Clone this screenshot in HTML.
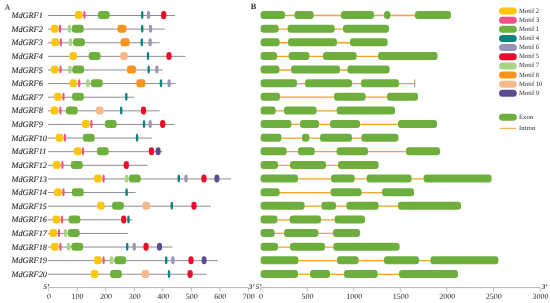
<!DOCTYPE html>
<html><head><meta charset="utf-8"><title>MdGRF gene structure</title>
<style>
html,body{margin:0;padding:0;background:#fff;}
body{width:550px;height:303px;overflow:hidden;}
svg{display:block;font-family:"Liberation Serif",serif;text-rendering:geometricPrecision;filter:blur(0.3px);}
</style></head><body>
<svg width="550" height="303" viewBox="0 0 550 303">
<text x="4.4" y="9.5" font-size="8.2" fill="#2a2a2a">A</text>
<text x="250.8" y="9.4" font-size="8.2" font-weight="bold" fill="#2a2a2a">B</text>
<text x="11.5" y="18.1" font-size="8.3" font-style="italic" fill="#2a2a2a" stroke="#2a2a2a" stroke-width="0.12">MdGRF1</text>
<line x1="48" y1="15.5" x2="175" y2="15.5" stroke="#8E8E8E" stroke-width="1"/>
<rect x="74.9" y="11.1" width="7.6" height="8" rx="3" fill="#FDC60C"/>
<rect x="83.3" y="11.1" width="2.2" height="8" rx="1.1" ry="2" fill="#EF5285"/>
<rect x="97.9" y="11.1" width="11.8" height="8" rx="3" fill="#6FAF3D"/>
<rect x="141" y="11.1" width="2.4" height="8" rx="1.2" ry="2" fill="#0B847F"/>
<rect x="146.9" y="11.1" width="3.2" height="8" rx="1.6" ry="2" fill="#9893B7"/>
<rect x="161.1" y="11.1" width="5.2" height="8" rx="2.6" ry="3.2" fill="#EC0B2A"/>
<text x="11.5" y="31.72" font-size="8.3" font-style="italic" fill="#2a2a2a" stroke="#2a2a2a" stroke-width="0.12">MdGRF2</text>
<line x1="48" y1="29.12" x2="164.6" y2="29.12" stroke="#8E8E8E" stroke-width="1"/>
<rect x="50.9" y="24.72" width="7.6" height="8" rx="3" fill="#FDC60C"/>
<rect x="58.9" y="24.72" width="2.2" height="8" rx="1.1" ry="2" fill="#EF5285"/>
<rect x="67.8" y="24.72" width="3.4" height="8" rx="1.7" ry="2" fill="#A8D585"/>
<rect x="71.9" y="24.72" width="11.8" height="8" rx="3" fill="#6FAF3D"/>
<rect x="117.5" y="24.72" width="9" height="8" rx="2.9" fill="#F7941E"/>
<rect x="141" y="24.72" width="2.4" height="8" rx="1.2" ry="2" fill="#0B847F"/>
<rect x="148.9" y="24.72" width="3.2" height="8" rx="1.6" ry="2" fill="#9893B7"/>
<text x="11.5" y="45.34" font-size="8.3" font-style="italic" fill="#2a2a2a" stroke="#2a2a2a" stroke-width="0.12">MdGRF3</text>
<line x1="48" y1="42.74" x2="159.6" y2="42.74" stroke="#8E8E8E" stroke-width="1"/>
<rect x="51.4" y="38.34" width="7.6" height="8" rx="3" fill="#FDC60C"/>
<rect x="59.7" y="38.34" width="2.2" height="8" rx="1.1" ry="2" fill="#EF5285"/>
<rect x="68.8" y="38.34" width="3.4" height="8" rx="1.7" ry="2" fill="#A8D585"/>
<rect x="73.1" y="38.34" width="11.8" height="8" rx="3" fill="#6FAF3D"/>
<rect x="120.6" y="38.34" width="9" height="8" rx="2.9" fill="#F7941E"/>
<rect x="140.6" y="38.34" width="2.4" height="8" rx="1.2" ry="2" fill="#0B847F"/>
<rect x="148.5" y="38.34" width="3.2" height="8" rx="1.6" ry="2" fill="#9893B7"/>
<text x="11.5" y="58.96" font-size="8.3" font-style="italic" fill="#2a2a2a" stroke="#2a2a2a" stroke-width="0.12">MdGRF4</text>
<line x1="48" y1="56.36" x2="185.4" y2="56.36" stroke="#8E8E8E" stroke-width="1"/>
<rect x="69.4" y="51.96" width="7.6" height="8" rx="3" fill="#FDC60C"/>
<rect x="88.7" y="51.96" width="11.8" height="8" rx="3" fill="#6FAF3D"/>
<rect x="120.2" y="51.96" width="7.6" height="8" rx="3" fill="#F9B88A"/>
<rect x="146.8" y="51.96" width="2.4" height="8" rx="1.2" ry="2" fill="#0B847F"/>
<rect x="166.4" y="51.96" width="5.2" height="8" rx="2.6" ry="3.2" fill="#EC0B2A"/>
<text x="11.5" y="72.58" font-size="8.3" font-style="italic" fill="#2a2a2a" stroke="#2a2a2a" stroke-width="0.12">MdGRF5</text>
<line x1="48" y1="69.98" x2="163" y2="69.98" stroke="#8E8E8E" stroke-width="1"/>
<rect x="50.9" y="65.58" width="7.6" height="8" rx="3" fill="#FDC60C"/>
<rect x="59.4" y="65.58" width="2.2" height="8" rx="1.1" ry="2" fill="#EF5285"/>
<rect x="68.2" y="65.58" width="3.4" height="8" rx="1.7" ry="2" fill="#A8D585"/>
<rect x="72.3" y="65.58" width="11.8" height="8" rx="3" fill="#6FAF3D"/>
<rect x="127" y="65.58" width="9" height="8" rx="2.9" fill="#F7941E"/>
<rect x="147.5" y="65.58" width="2.4" height="8" rx="1.2" ry="2" fill="#0B847F"/>
<rect x="155.3" y="65.58" width="3.2" height="8" rx="1.6" ry="2" fill="#9893B7"/>
<text x="11.5" y="86.2" font-size="8.3" font-style="italic" fill="#2a2a2a" stroke="#2a2a2a" stroke-width="0.12">MdGRF6</text>
<line x1="48" y1="83.6" x2="175.6" y2="83.6" stroke="#8E8E8E" stroke-width="1"/>
<rect x="69.5" y="79.2" width="7.6" height="8" rx="3" fill="#FDC60C"/>
<rect x="78.1" y="79.2" width="2.2" height="8" rx="1.1" ry="2" fill="#EF5285"/>
<rect x="86.2" y="79.2" width="3.4" height="8" rx="1.7" ry="2" fill="#A8D585"/>
<rect x="90.9" y="79.2" width="11.8" height="8" rx="3" fill="#6FAF3D"/>
<rect x="136.35" y="79.2" width="9" height="8" rx="2.9" fill="#F7941E"/>
<rect x="159.8" y="79.2" width="2.4" height="8" rx="1.2" ry="2" fill="#0B847F"/>
<rect x="167.5" y="79.2" width="3.2" height="8" rx="1.6" ry="2" fill="#9893B7"/>
<text x="11.5" y="99.82" font-size="8.3" font-style="italic" fill="#2a2a2a" stroke="#2a2a2a" stroke-width="0.12">MdGRF7</text>
<line x1="48" y1="97.22" x2="134" y2="97.22" stroke="#8E8E8E" stroke-width="1"/>
<rect x="54" y="92.82" width="7.6" height="8" rx="3" fill="#FDC60C"/>
<rect x="62.4" y="92.82" width="2.2" height="8" rx="1.1" ry="2" fill="#EF5285"/>
<rect x="72.1" y="92.82" width="11.8" height="8" rx="3" fill="#6FAF3D"/>
<rect x="125.1" y="92.82" width="2.4" height="8" rx="1.2" ry="2" fill="#0B847F"/>
<text x="11.5" y="113.44" font-size="8.3" font-style="italic" fill="#2a2a2a" stroke="#2a2a2a" stroke-width="0.12">MdGRF8</text>
<line x1="48" y1="110.84" x2="159.6" y2="110.84" stroke="#8E8E8E" stroke-width="1"/>
<rect x="50.7" y="106.44" width="7.6" height="8" rx="3" fill="#FDC60C"/>
<rect x="59.3" y="106.44" width="2.2" height="8" rx="1.1" ry="2" fill="#EF5285"/>
<rect x="65.9" y="106.44" width="11.8" height="8" rx="3" fill="#6FAF3D"/>
<rect x="95.9" y="106.44" width="7.6" height="8" rx="3" fill="#F9B88A"/>
<rect x="120" y="106.44" width="2.4" height="8" rx="1.2" ry="2" fill="#0B847F"/>
<rect x="140.9" y="106.44" width="5.2" height="8" rx="2.6" ry="3.2" fill="#EC0B2A"/>
<text x="11.5" y="127.06" font-size="8.3" font-style="italic" fill="#2a2a2a" stroke="#2a2a2a" stroke-width="0.12">MdGRF9</text>
<line x1="48" y1="124.46" x2="174.4" y2="124.46" stroke="#8E8E8E" stroke-width="1"/>
<rect x="81.9" y="120.06" width="7.6" height="8" rx="3" fill="#FDC60C"/>
<rect x="90.3" y="120.06" width="2.2" height="8" rx="1.1" ry="2" fill="#EF5285"/>
<rect x="104.9" y="120.06" width="11.8" height="8" rx="3" fill="#6FAF3D"/>
<rect x="142.8" y="120.06" width="2.4" height="8" rx="1.2" ry="2" fill="#0B847F"/>
<rect x="148.6" y="120.06" width="3.2" height="8" rx="1.6" ry="2" fill="#9893B7"/>
<rect x="160.1" y="120.06" width="5.2" height="8" rx="2.6" ry="3.2" fill="#EC0B2A"/>
<text x="11.5" y="140.68" font-size="8.3" font-style="italic" fill="#2a2a2a" stroke="#2a2a2a" stroke-width="0.12">MdGRF10</text>
<line x1="48" y1="138.08" x2="151.8" y2="138.08" stroke="#8E8E8E" stroke-width="1"/>
<rect x="55.7" y="133.68" width="7.6" height="8" rx="3" fill="#FDC60C"/>
<rect x="63.9" y="133.68" width="2.2" height="8" rx="1.1" ry="2" fill="#EF5285"/>
<rect x="82.9" y="133.68" width="11.8" height="8" rx="3" fill="#6FAF3D"/>
<rect x="135.9" y="133.68" width="2.4" height="8" rx="1.2" ry="2" fill="#0B847F"/>
<text x="11.5" y="154.3" font-size="8.3" font-style="italic" fill="#2a2a2a" stroke="#2a2a2a" stroke-width="0.12">MdGRF11</text>
<line x1="48" y1="151.7" x2="162.6" y2="151.7" stroke="#8E8E8E" stroke-width="1"/>
<rect x="73.9" y="147.3" width="7.6" height="8" rx="3" fill="#FDC60C"/>
<rect x="81.9" y="147.3" width="2.2" height="8" rx="1.1" ry="2" fill="#EF5285"/>
<rect x="96.9" y="147.3" width="11.8" height="8" rx="3" fill="#6FAF3D"/>
<rect x="148.9" y="147.3" width="5.2" height="8" rx="2.6" ry="3.2" fill="#EC0B2A"/>
<rect x="155.6" y="147.3" width="5" height="8" rx="2.5" ry="3.2" fill="#5C4A92"/>
<text x="11.5" y="167.92" font-size="8.3" font-style="italic" fill="#2a2a2a" stroke="#2a2a2a" stroke-width="0.12">MdGRF12</text>
<line x1="48" y1="165.32" x2="147.5" y2="165.32" stroke="#8E8E8E" stroke-width="1"/>
<rect x="52.9" y="160.92" width="7.6" height="8" rx="3" fill="#FDC60C"/>
<rect x="61.3" y="160.92" width="2.2" height="8" rx="1.1" ry="2" fill="#EF5285"/>
<rect x="70.9" y="160.92" width="11.8" height="8" rx="3" fill="#6FAF3D"/>
<rect x="123.7" y="160.92" width="5.2" height="8" rx="2.6" ry="3.2" fill="#EC0B2A"/>
<text x="11.5" y="181.54" font-size="8.3" font-style="italic" fill="#2a2a2a" stroke="#2a2a2a" stroke-width="0.12">MdGRF13</text>
<line x1="48" y1="178.94" x2="231" y2="178.94" stroke="#8E8E8E" stroke-width="1"/>
<rect x="94" y="174.54" width="7.6" height="8" rx="3" fill="#FDC60C"/>
<rect x="102.5" y="174.54" width="2.2" height="8" rx="1.1" ry="2" fill="#EF5285"/>
<rect x="124.8" y="174.54" width="3.4" height="8" rx="1.7" ry="2" fill="#A8D585"/>
<rect x="128.9" y="174.54" width="11.8" height="8" rx="3" fill="#6FAF3D"/>
<rect x="177.6" y="174.54" width="2.4" height="8" rx="1.2" ry="2" fill="#0B847F"/>
<rect x="184.4" y="174.54" width="3.2" height="8" rx="1.6" ry="2" fill="#9893B7"/>
<rect x="201.3" y="174.54" width="5.2" height="8" rx="2.6" ry="3.2" fill="#EC0B2A"/>
<rect x="214.4" y="174.54" width="5" height="8" rx="2.5" ry="3.2" fill="#5C4A92"/>
<text x="11.5" y="195.16" font-size="8.3" font-style="italic" fill="#2a2a2a" stroke="#2a2a2a" stroke-width="0.12">MdGRF14</text>
<line x1="48" y1="192.56" x2="135.6" y2="192.56" stroke="#8E8E8E" stroke-width="1"/>
<rect x="54" y="188.16" width="7.6" height="8" rx="3" fill="#FDC60C"/>
<rect x="62.4" y="188.16" width="2.2" height="8" rx="1.1" ry="2" fill="#EF5285"/>
<rect x="71.9" y="188.16" width="11.8" height="8" rx="3" fill="#6FAF3D"/>
<rect x="125.4" y="188.16" width="2.4" height="8" rx="1.2" ry="2" fill="#0B847F"/>
<text x="11.5" y="208.78" font-size="8.3" font-style="italic" fill="#2a2a2a" stroke="#2a2a2a" stroke-width="0.12">MdGRF15</text>
<line x1="48" y1="206.18" x2="211" y2="206.18" stroke="#8E8E8E" stroke-width="1"/>
<rect x="97" y="201.78" width="7.6" height="8" rx="3" fill="#FDC60C"/>
<rect x="112.1" y="201.78" width="11.8" height="8" rx="3" fill="#6FAF3D"/>
<rect x="142.4" y="201.78" width="7.6" height="8" rx="3" fill="#F9B88A"/>
<rect x="170.6" y="201.78" width="2.4" height="8" rx="1.2" ry="2" fill="#0B847F"/>
<rect x="191.4" y="201.78" width="5.2" height="8" rx="2.6" ry="3.2" fill="#EC0B2A"/>
<text x="11.5" y="222.4" font-size="8.3" font-style="italic" fill="#2a2a2a" stroke="#2a2a2a" stroke-width="0.12">MdGRF16</text>
<line x1="48" y1="219.8" x2="132.4" y2="219.8" stroke="#8E8E8E" stroke-width="1"/>
<rect x="52.6" y="215.4" width="7.6" height="8" rx="3" fill="#FDC60C"/>
<rect x="60.9" y="215.4" width="2.2" height="8" rx="1.1" ry="2" fill="#EF5285"/>
<rect x="68.6" y="215.4" width="11.8" height="8" rx="3" fill="#6FAF3D"/>
<rect x="121.1" y="215.4" width="5.2" height="8" rx="2.6" ry="3.2" fill="#EC0B2A"/>
<rect x="127.3" y="215.4" width="2.4" height="8" rx="1.2" ry="2" fill="#0B847F"/>
<text x="11.5" y="236.02" font-size="8.3" font-style="italic" fill="#2a2a2a" stroke="#2a2a2a" stroke-width="0.12">MdGRF17</text>
<line x1="48" y1="233.42" x2="128" y2="233.42" stroke="#8E8E8E" stroke-width="1"/>
<rect x="49.4" y="229.02" width="7.6" height="8" rx="3" fill="#FDC60C"/>
<rect x="57.9" y="229.02" width="2.2" height="8" rx="1.1" ry="2" fill="#EF5285"/>
<rect x="63.8" y="229.02" width="3.4" height="8" rx="1.7" ry="2" fill="#A8D585"/>
<rect x="67.9" y="229.02" width="11.8" height="8" rx="3" fill="#6FAF3D"/>
<text x="11.5" y="249.64" font-size="8.3" font-style="italic" fill="#2a2a2a" stroke="#2a2a2a" stroke-width="0.12">MdGRF18</text>
<line x1="48" y1="247.04" x2="172.4" y2="247.04" stroke="#8E8E8E" stroke-width="1"/>
<rect x="50.9" y="242.64" width="7.6" height="8" rx="3" fill="#FDC60C"/>
<rect x="59.3" y="242.64" width="2.2" height="8" rx="1.1" ry="2" fill="#EF5285"/>
<rect x="66.8" y="242.64" width="3.4" height="8" rx="1.7" ry="2" fill="#A8D585"/>
<rect x="71.3" y="242.64" width="11.8" height="8" rx="3" fill="#6FAF3D"/>
<rect x="126" y="242.64" width="2.4" height="8" rx="1.2" ry="2" fill="#0B847F"/>
<rect x="132.6" y="242.64" width="3.2" height="8" rx="1.6" ry="2" fill="#9893B7"/>
<rect x="143.45" y="242.64" width="5.2" height="8" rx="2.6" ry="3.2" fill="#EC0B2A"/>
<rect x="157" y="242.64" width="5" height="8" rx="2.5" ry="3.2" fill="#5C4A92"/>
<text x="11.5" y="263.26" font-size="8.3" font-style="italic" fill="#2a2a2a" stroke="#2a2a2a" stroke-width="0.12">MdGRF19</text>
<line x1="48" y1="260.66" x2="218" y2="260.66" stroke="#8E8E8E" stroke-width="1"/>
<rect x="94" y="256.26" width="7.6" height="8" rx="3" fill="#FDC60C"/>
<rect x="102.5" y="256.26" width="2.2" height="8" rx="1.1" ry="2" fill="#EF5285"/>
<rect x="109.8" y="256.26" width="3.4" height="8" rx="1.7" ry="2" fill="#A8D585"/>
<rect x="114.3" y="256.26" width="11.8" height="8" rx="3" fill="#6FAF3D"/>
<rect x="165" y="256.26" width="2.4" height="8" rx="1.2" ry="2" fill="#0B847F"/>
<rect x="171.3" y="256.26" width="3.2" height="8" rx="1.6" ry="2" fill="#9893B7"/>
<rect x="188.4" y="256.26" width="5.2" height="8" rx="2.6" ry="3.2" fill="#EC0B2A"/>
<rect x="201.6" y="256.26" width="5" height="8" rx="2.5" ry="3.2" fill="#5C4A92"/>
<text x="11.5" y="276.88" font-size="8.3" font-style="italic" fill="#2a2a2a" stroke="#2a2a2a" stroke-width="0.12">MdGRF20</text>
<line x1="48" y1="274.28" x2="206.6" y2="274.28" stroke="#8E8E8E" stroke-width="1"/>
<rect x="90.7" y="269.88" width="7.6" height="8" rx="3" fill="#FDC60C"/>
<rect x="110.1" y="269.88" width="11.8" height="8" rx="3" fill="#6FAF3D"/>
<rect x="141.55" y="269.88" width="7.6" height="8" rx="3" fill="#F9B88A"/>
<rect x="167.8" y="269.88" width="2.4" height="8" rx="1.2" ry="2" fill="#0B847F"/>
<rect x="187.5" y="269.88" width="5.2" height="8" rx="2.6" ry="3.2" fill="#EC0B2A"/>
<line x1="282" y1="15.5" x2="418" y2="15.5" stroke="#F6A12C" stroke-width="1.3"/>
<rect x="260.6" y="11.1" width="24.4" height="8" rx="3" fill="#6DAE3E"/>
<rect x="294.6" y="11.1" width="19" height="8" rx="3" fill="#6DAE3E"/>
<rect x="341" y="11.1" width="33" height="8" rx="3" fill="#6DAE3E"/>
<rect x="384" y="11.1" width="6.4" height="8" rx="3" fill="#6DAE3E"/>
<rect x="415" y="11.1" width="36" height="8" rx="3" fill="#6DAE3E"/>
<line x1="275.6" y1="29.12" x2="346" y2="29.12" stroke="#F6A12C" stroke-width="1.3"/>
<rect x="260.6" y="24.72" width="18" height="8" rx="3" fill="#6DAE3E"/>
<rect x="287.6" y="24.72" width="47" height="8" rx="3" fill="#6DAE3E"/>
<rect x="343" y="24.72" width="46" height="8" rx="3" fill="#6DAE3E"/>
<line x1="276.6" y1="42.74" x2="353" y2="42.74" stroke="#F6A12C" stroke-width="1.3"/>
<rect x="260.6" y="38.34" width="19" height="8" rx="3" fill="#6DAE3E"/>
<rect x="288" y="38.34" width="49" height="8" rx="3" fill="#6DAE3E"/>
<rect x="350" y="38.34" width="37.6" height="8" rx="3" fill="#6DAE3E"/>
<line x1="274" y1="56.36" x2="381" y2="56.36" stroke="#F6A12C" stroke-width="1.3"/>
<rect x="260.6" y="51.96" width="16.4" height="8" rx="3" fill="#6DAE3E"/>
<rect x="288.6" y="51.96" width="20.8" height="8" rx="3" fill="#6DAE3E"/>
<rect x="323" y="51.96" width="33.6" height="8" rx="3" fill="#6DAE3E"/>
<rect x="378" y="51.96" width="59.6" height="8" rx="3" fill="#6DAE3E"/>
<line x1="276.4" y1="69.98" x2="350.4" y2="69.98" stroke="#F6A12C" stroke-width="1.3"/>
<rect x="260.6" y="65.58" width="18.8" height="8" rx="3" fill="#6DAE3E"/>
<rect x="291" y="65.58" width="49" height="8" rx="3" fill="#6DAE3E"/>
<rect x="347.4" y="65.58" width="42.2" height="8" rx="3" fill="#6DAE3E"/>
<line x1="294" y1="83.6" x2="415.2" y2="83.6" stroke="#F6A12C" stroke-width="1.3"/>
<rect x="260.6" y="79.2" width="36.4" height="8" rx="3" fill="#6DAE3E"/>
<rect x="305" y="79.2" width="47" height="8" rx="3" fill="#6DAE3E"/>
<rect x="361" y="79.2" width="38" height="8" rx="3" fill="#6DAE3E"/>
<rect x="414.3" y="79.2" width="0.9" height="8" rx="0.45" fill="#6DAE3E"/>
<line x1="277" y1="97.22" x2="390" y2="97.22" stroke="#F6A12C" stroke-width="1.3"/>
<rect x="260.6" y="92.82" width="19.4" height="8" rx="3" fill="#6DAE3E"/>
<rect x="334" y="92.82" width="31.6" height="8" rx="3" fill="#6DAE3E"/>
<rect x="387" y="92.82" width="31" height="8" rx="3" fill="#6DAE3E"/>
<line x1="272.6" y1="110.84" x2="339.6" y2="110.84" stroke="#F6A12C" stroke-width="1.3"/>
<rect x="260.6" y="106.44" width="15" height="8" rx="3" fill="#6DAE3E"/>
<rect x="284" y="106.44" width="32.6" height="8" rx="3" fill="#6DAE3E"/>
<rect x="336.6" y="106.44" width="58.4" height="8" rx="3" fill="#6DAE3E"/>
<line x1="288.4" y1="124.46" x2="401" y2="124.46" stroke="#F6A12C" stroke-width="1.3"/>
<rect x="260.6" y="120.06" width="30.8" height="8" rx="3" fill="#6DAE3E"/>
<rect x="300" y="120.06" width="19" height="8" rx="3" fill="#6DAE3E"/>
<rect x="330" y="120.06" width="30" height="8" rx="3" fill="#6DAE3E"/>
<rect x="398" y="120.06" width="39" height="8" rx="3" fill="#6DAE3E"/>
<line x1="278.4" y1="138.08" x2="364.4" y2="138.08" stroke="#F6A12C" stroke-width="1.3"/>
<rect x="260.6" y="133.68" width="20.8" height="8" rx="3" fill="#6DAE3E"/>
<rect x="302" y="133.68" width="7.4" height="8" rx="3" fill="#6DAE3E"/>
<rect x="320" y="133.68" width="32" height="8" rx="3" fill="#6DAE3E"/>
<rect x="361.4" y="133.68" width="37" height="8" rx="3" fill="#6DAE3E"/>
<line x1="283.6" y1="151.7" x2="409" y2="151.7" stroke="#F6A12C" stroke-width="1.3"/>
<rect x="260.6" y="147.3" width="26" height="8" rx="3" fill="#6DAE3E"/>
<rect x="298" y="147.3" width="16.6" height="8" rx="3" fill="#6DAE3E"/>
<rect x="336.6" y="147.3" width="31.4" height="8" rx="3" fill="#6DAE3E"/>
<rect x="406" y="147.3" width="34" height="8" rx="3" fill="#6DAE3E"/>
<line x1="275" y1="165.32" x2="341" y2="165.32" stroke="#F6A12C" stroke-width="1.3"/>
<rect x="260.6" y="160.92" width="17.4" height="8" rx="3" fill="#6DAE3E"/>
<rect x="290" y="160.92" width="36" height="8" rx="3" fill="#6DAE3E"/>
<rect x="338" y="160.92" width="40.6" height="8" rx="3" fill="#6DAE3E"/>
<line x1="295" y1="178.94" x2="426.6" y2="178.94" stroke="#F6A12C" stroke-width="1.3"/>
<rect x="260.6" y="174.54" width="37.4" height="8" rx="3" fill="#6DAE3E"/>
<rect x="331" y="174.54" width="23.6" height="8" rx="3" fill="#6DAE3E"/>
<rect x="366.6" y="174.54" width="45" height="8" rx="3" fill="#6DAE3E"/>
<rect x="423.6" y="174.54" width="68" height="8" rx="3" fill="#6DAE3E"/>
<line x1="276.6" y1="192.56" x2="385" y2="192.56" stroke="#F6A12C" stroke-width="1.3"/>
<rect x="260.6" y="188.16" width="19" height="8" rx="3" fill="#6DAE3E"/>
<rect x="330.6" y="188.16" width="30.9" height="8" rx="3" fill="#6DAE3E"/>
<rect x="382" y="188.16" width="32" height="8" rx="3" fill="#6DAE3E"/>
<line x1="301.6" y1="206.18" x2="401" y2="206.18" stroke="#F6A12C" stroke-width="1.3"/>
<rect x="260.6" y="201.78" width="44" height="8" rx="3" fill="#6DAE3E"/>
<rect x="321.4" y="201.78" width="14.6" height="8" rx="3" fill="#6DAE3E"/>
<rect x="346.4" y="201.78" width="32.2" height="8" rx="3" fill="#6DAE3E"/>
<rect x="398" y="201.78" width="63" height="8" rx="3" fill="#6DAE3E"/>
<line x1="274.4" y1="219.8" x2="337.6" y2="219.8" stroke="#F6A12C" stroke-width="1.3"/>
<rect x="260.6" y="215.4" width="16.8" height="8" rx="3" fill="#6DAE3E"/>
<rect x="289.6" y="215.4" width="31.4" height="8" rx="3" fill="#6DAE3E"/>
<rect x="334.6" y="215.4" width="30.4" height="8" rx="3" fill="#6DAE3E"/>
<line x1="271.6" y1="233.42" x2="336" y2="233.42" stroke="#F6A12C" stroke-width="1.3"/>
<rect x="260.6" y="229.02" width="14" height="8" rx="3" fill="#6DAE3E"/>
<rect x="284" y="229.02" width="34.4" height="8" rx="3" fill="#6DAE3E"/>
<rect x="333" y="229.02" width="27" height="8" rx="3" fill="#6DAE3E"/>
<line x1="275" y1="247.04" x2="336.4" y2="247.04" stroke="#F6A12C" stroke-width="1.3"/>
<rect x="260.6" y="242.64" width="17.4" height="8" rx="3" fill="#6DAE3E"/>
<rect x="290" y="242.64" width="35" height="8" rx="3" fill="#6DAE3E"/>
<rect x="333.4" y="242.64" width="66.2" height="8" rx="3" fill="#6DAE3E"/>
<line x1="295.4" y1="260.66" x2="433.4" y2="260.66" stroke="#F6A12C" stroke-width="1.3"/>
<rect x="260.6" y="256.26" width="37.8" height="8" rx="3" fill="#6DAE3E"/>
<rect x="337" y="256.26" width="21.5" height="8" rx="3" fill="#6DAE3E"/>
<rect x="384" y="256.26" width="35" height="8" rx="3" fill="#6DAE3E"/>
<rect x="430.4" y="256.26" width="68" height="8" rx="3" fill="#6DAE3E"/>
<line x1="295" y1="274.28" x2="402" y2="274.28" stroke="#F6A12C" stroke-width="1.3"/>
<rect x="260.6" y="269.88" width="37.4" height="8" rx="3" fill="#6DAE3E"/>
<rect x="310" y="269.88" width="20" height="8" rx="3" fill="#6DAE3E"/>
<rect x="344" y="269.88" width="33.6" height="8" rx="3" fill="#6DAE3E"/>
<rect x="399" y="269.88" width="59" height="8" rx="3" fill="#6DAE3E"/>
<line x1="48.64" y1="287.6" x2="248.42" y2="287.6" stroke="#B4B4B4" stroke-width="1"/>
<line x1="48.64" y1="287.6" x2="48.64" y2="291.6" stroke="#9a9a9a" stroke-width="0.6"/>
<text x="49.04" y="299.2" font-size="8" text-anchor="middle" fill="#2a2a2a">0</text>
<line x1="77.18" y1="287.6" x2="77.18" y2="291.6" stroke="#9a9a9a" stroke-width="0.6"/>
<text x="77.58" y="299.2" font-size="8" text-anchor="middle" fill="#2a2a2a">100</text>
<line x1="105.72" y1="287.6" x2="105.72" y2="291.6" stroke="#9a9a9a" stroke-width="0.6"/>
<text x="106.12" y="299.2" font-size="8" text-anchor="middle" fill="#2a2a2a">200</text>
<line x1="134.26" y1="287.6" x2="134.26" y2="291.6" stroke="#9a9a9a" stroke-width="0.6"/>
<text x="134.66" y="299.2" font-size="8" text-anchor="middle" fill="#2a2a2a">300</text>
<line x1="162.8" y1="287.6" x2="162.8" y2="291.6" stroke="#9a9a9a" stroke-width="0.6"/>
<text x="163.2" y="299.2" font-size="8" text-anchor="middle" fill="#2a2a2a">400</text>
<line x1="191.34" y1="287.6" x2="191.34" y2="291.6" stroke="#9a9a9a" stroke-width="0.6"/>
<text x="191.74" y="299.2" font-size="8" text-anchor="middle" fill="#2a2a2a">500</text>
<line x1="219.88" y1="287.6" x2="219.88" y2="291.6" stroke="#9a9a9a" stroke-width="0.6"/>
<text x="220.28" y="299.2" font-size="8" text-anchor="middle" fill="#2a2a2a">600</text>
<line x1="248.42" y1="287.6" x2="248.42" y2="291.6" stroke="#9a9a9a" stroke-width="0.6"/>
<text x="248.82" y="299.2" font-size="8" text-anchor="middle" fill="#2a2a2a">700</text>
<text x="43.4" y="289.2" font-size="7" font-style="italic" font-weight="bold" fill="#2a2a2a">5&#8217;</text>
<text x="248.8" y="289.2" font-size="7" font-style="italic" font-weight="bold" fill="#2a2a2a">3&#8217;</text>
<line x1="260.6" y1="287.6" x2="540.02" y2="287.6" stroke="#B4B4B4" stroke-width="1"/>
<line x1="260.6" y1="287.6" x2="260.6" y2="291.6" stroke="#9a9a9a" stroke-width="0.6"/>
<text x="261" y="299.2" font-size="8" text-anchor="middle" fill="#2a2a2a">0</text>
<line x1="307.17" y1="287.6" x2="307.17" y2="291.6" stroke="#9a9a9a" stroke-width="0.6"/>
<text x="307.57" y="299.2" font-size="8" text-anchor="middle" fill="#2a2a2a">500</text>
<line x1="353.74" y1="287.6" x2="353.74" y2="291.6" stroke="#9a9a9a" stroke-width="0.6"/>
<text x="354.14" y="299.2" font-size="8" text-anchor="middle" fill="#2a2a2a">1000</text>
<line x1="400.31" y1="287.6" x2="400.31" y2="291.6" stroke="#9a9a9a" stroke-width="0.6"/>
<text x="400.71" y="299.2" font-size="8" text-anchor="middle" fill="#2a2a2a">1500</text>
<line x1="446.88" y1="287.6" x2="446.88" y2="291.6" stroke="#9a9a9a" stroke-width="0.6"/>
<text x="447.28" y="299.2" font-size="8" text-anchor="middle" fill="#2a2a2a">2000</text>
<line x1="493.45" y1="287.6" x2="493.45" y2="291.6" stroke="#9a9a9a" stroke-width="0.6"/>
<text x="493.85" y="299.2" font-size="8" text-anchor="middle" fill="#2a2a2a">2500</text>
<line x1="540.02" y1="287.6" x2="540.02" y2="291.6" stroke="#9a9a9a" stroke-width="0.6"/>
<text x="540.42" y="299.2" font-size="8" text-anchor="middle" fill="#2a2a2a">3000</text>
<text x="255.8" y="289.2" font-size="7" font-style="italic" font-weight="bold" fill="#2a2a2a">5&#8217;</text>
<text x="541.8" y="289.2" font-size="7" font-style="italic" font-weight="bold" fill="#2a2a2a">3&#8217;</text>
<rect x="499" y="7.5" width="17.8" height="7" rx="3.5" fill="#FDC60C"/>
<text x="519" y="12.5" font-size="6.65" fill="#2a2a2a">Motif 2</text>
<rect x="499" y="16.65" width="17.8" height="7" rx="3.5" fill="#EF5285"/>
<text x="519" y="21.65" font-size="6.65" fill="#2a2a2a">Motif 3</text>
<rect x="499" y="25.8" width="17.8" height="7" rx="3.5" fill="#6FAF3D"/>
<text x="519" y="30.8" font-size="6.65" fill="#2a2a2a">Motif 1</text>
<rect x="499" y="34.95" width="17.8" height="7" rx="3.5" fill="#0B847F"/>
<text x="519" y="39.95" font-size="6.65" fill="#2a2a2a">Motif 4</text>
<rect x="499" y="44.1" width="17.8" height="7" rx="3.5" fill="#9893B7"/>
<text x="519" y="49.1" font-size="6.65" fill="#2a2a2a">Motif 6</text>
<rect x="499" y="53.25" width="17.8" height="7" rx="3.5" fill="#EC0B2A"/>
<text x="519" y="58.25" font-size="6.65" fill="#2a2a2a">Motif 5</text>
<rect x="499" y="62.4" width="17.8" height="7" rx="3.5" fill="#A8D585"/>
<text x="519" y="67.4" font-size="6.65" fill="#2a2a2a">Motif 7</text>
<rect x="499" y="71.55" width="17.8" height="7" rx="3.5" fill="#F7941E"/>
<text x="519" y="76.55" font-size="6.65" fill="#2a2a2a">Motif 8</text>
<rect x="499" y="80.7" width="17.8" height="7" rx="3.5" fill="#F9B88A"/>
<text x="519" y="85.7" font-size="6.65" fill="#2a2a2a">Motif 10</text>
<rect x="499" y="89.85" width="17.8" height="7" rx="3.5" fill="#5C4A92"/>
<text x="519" y="94.85" font-size="6.65" fill="#2a2a2a">Motif 9</text>
<rect x="499" y="113.8" width="17.8" height="7" rx="3.5" fill="#6DAE3E"/>
<text x="519" y="118.5" font-size="6.65" fill="#2a2a2a">Exon</text>
<line x1="499.5" y1="128.3" x2="516.2" y2="128.3" stroke="#F6A12C" stroke-width="1"/>
<text x="519" y="129.5" font-size="6.65" fill="#2a2a2a">Intron</text>
</svg>
</body></html>
